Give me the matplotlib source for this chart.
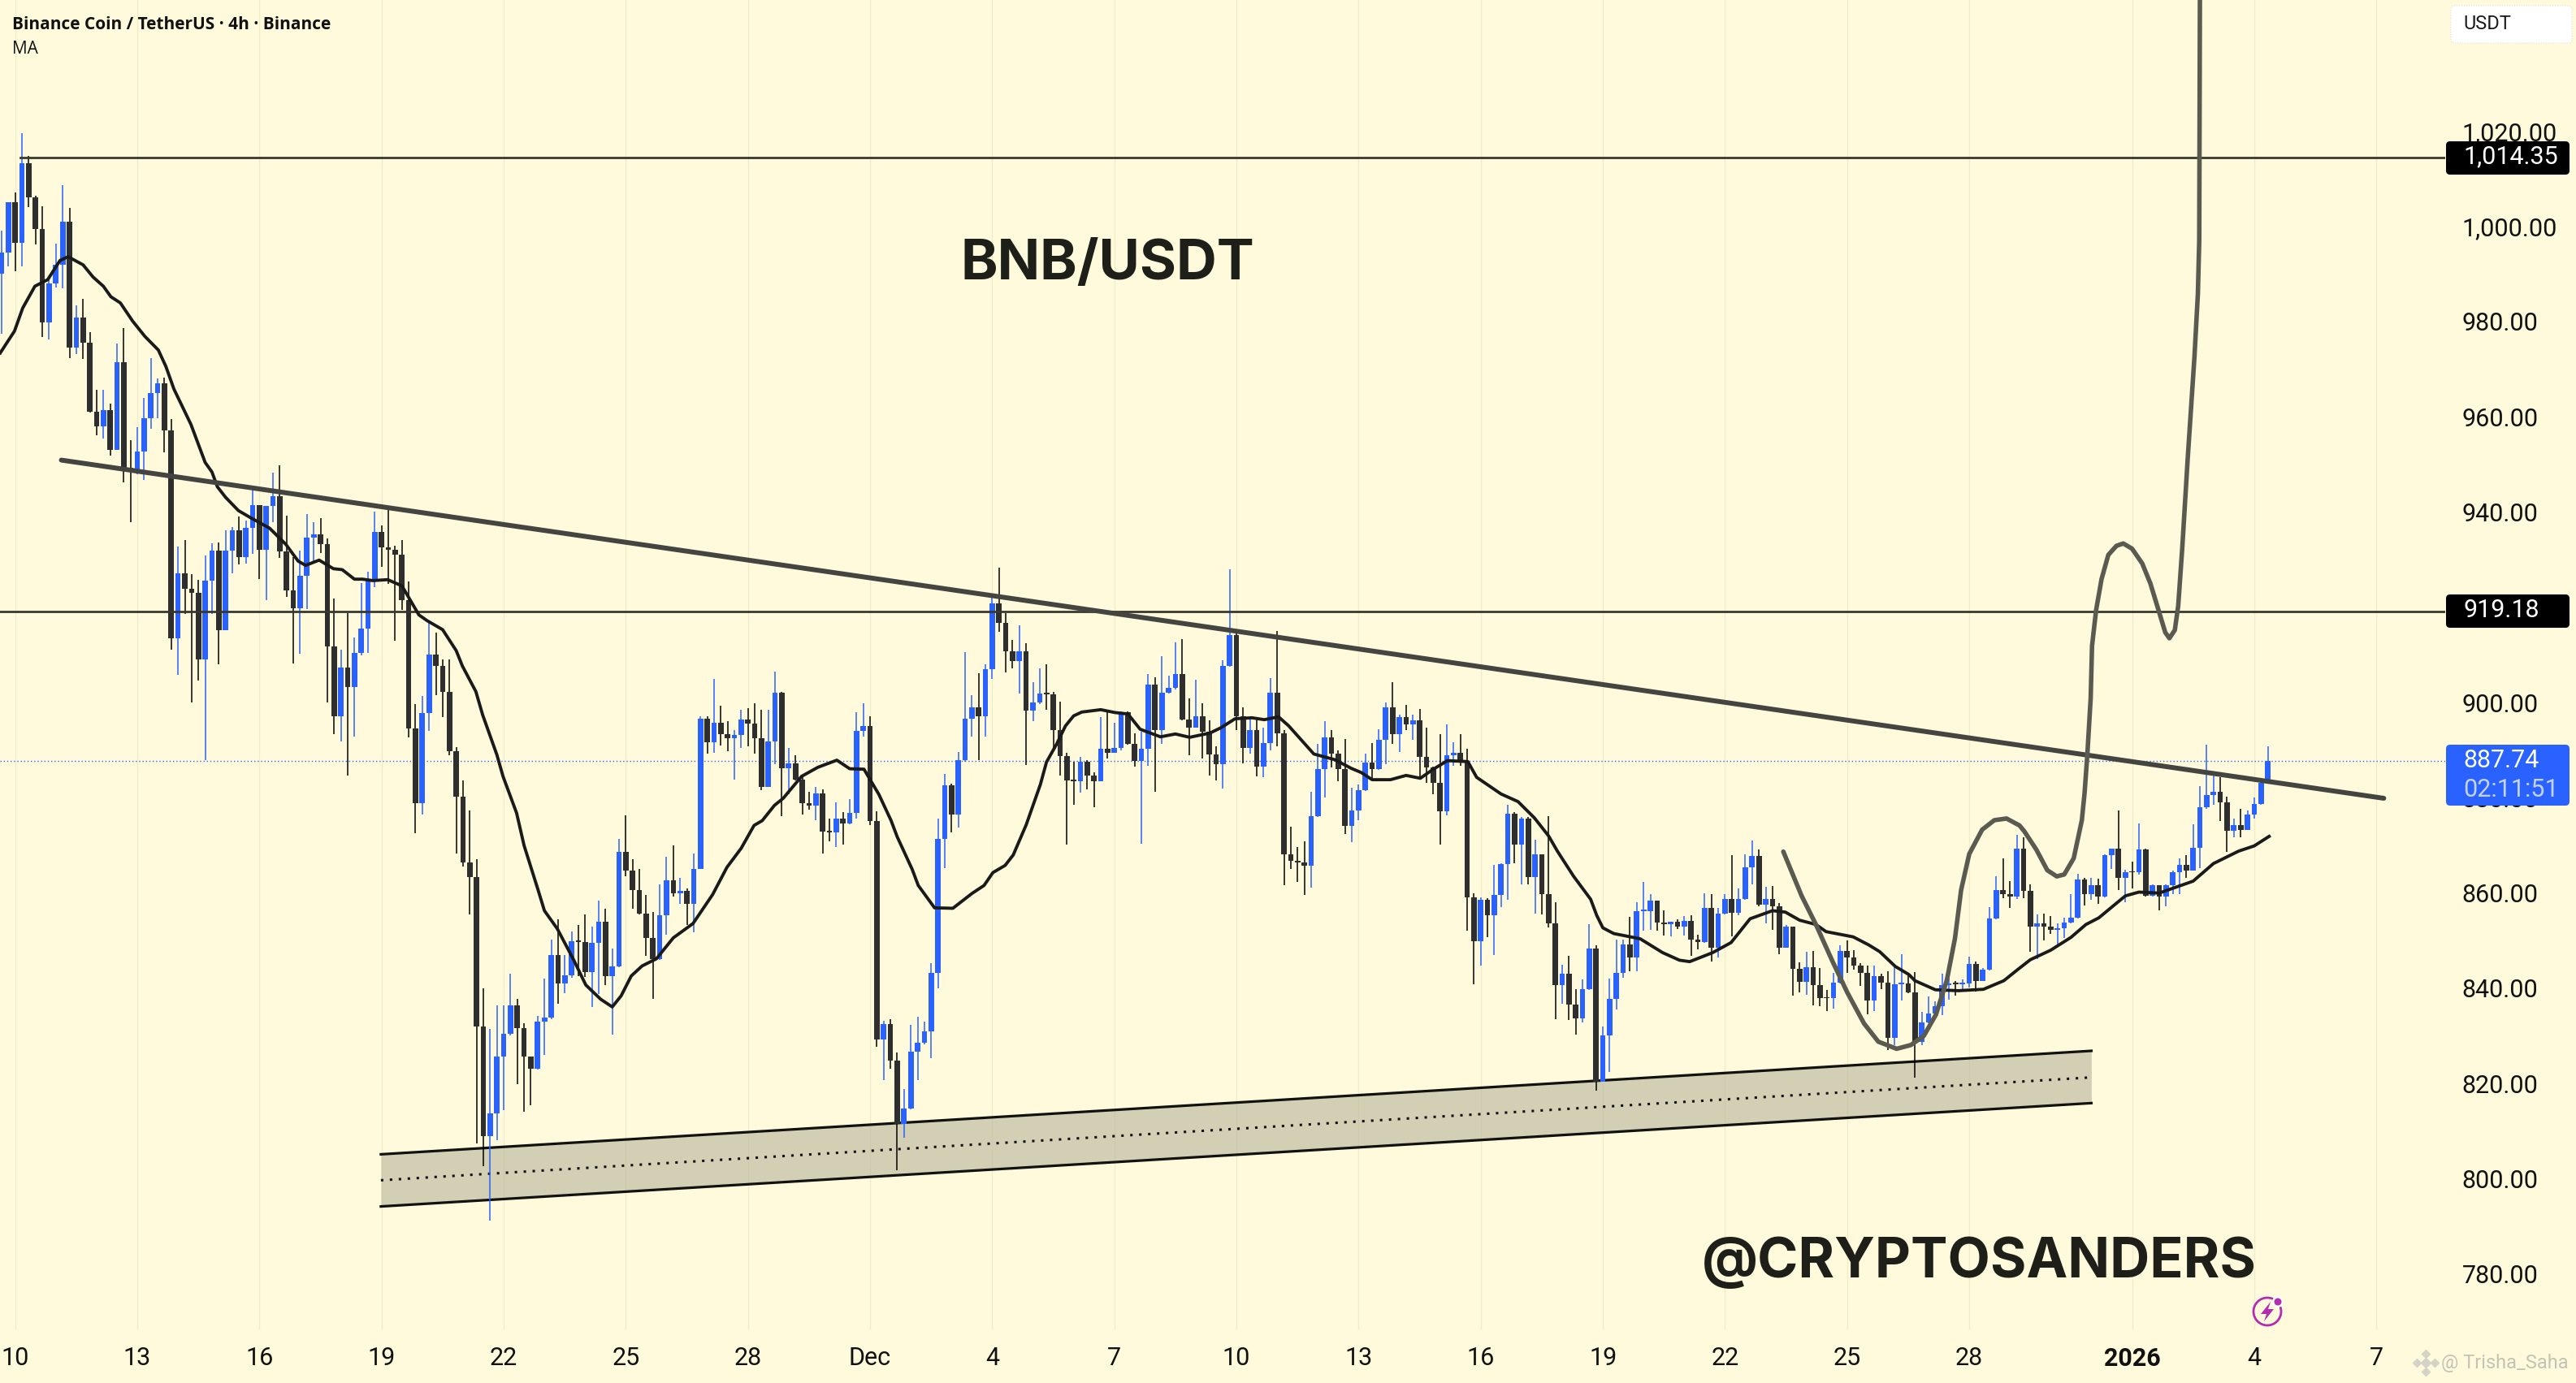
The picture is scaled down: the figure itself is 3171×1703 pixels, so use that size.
#!/usr/bin/env python
import matplotlib
matplotlib.use('Agg')
import matplotlib.pyplot as plt
from matplotlib.lines import Line2D
from matplotlib.patches import Circle, FancyBboxPatch, Polygon
from matplotlib.transforms import IdentityTransform

# 4h candles, candle 2 is Nov 10 00:00. Each open is the previous close.
first_open = 990.1
closes = [
    994.4, 1005.0, 996.5, 1013.2, 1006.0, 999.5, 979.8, 988.0, 991.9, 1000.9,
    974.5, 980.8, 975.6, 961.0, 958.0, 961.4, 953.0, 971.4, 949.3, 948.4,
    952.7, 959.7, 964.9, 967.0, 957.1, 913.4, 927.1, 923.9, 923.0, 909.0,
    925.6, 931.9, 915.2, 931.9, 936.1, 930.5, 936.6, 941.4, 932.0, 941.3,
    943.4, 931.7, 923.5, 919.8, 926.6, 934.6, 935.3, 933.3, 911.8, 897.2,
    907.3, 903.2, 910.4, 915.5, 926.0, 935.8, 932.6, 932.0, 931.0, 921.5,
    894.5, 878.8, 897.8, 910.1, 907.7, 902.3, 889.8, 880.3, 866.4, 863.3,
    832.0, 809.0, 813.8, 825.7, 830.4, 836.4, 831.7, 825.6, 823.1, 833.0,
    833.9, 847.0, 841.0, 842.8, 849.9, 849.8, 843.4, 849.5, 854.0, 842.6,
    844.6, 868.6, 864.8, 860.6, 855.7, 850.6, 846.1, 855.4, 862.7, 860.0,
    860.5, 857.7, 865.1, 896.6, 891.7, 895.7, 893.4, 892.5, 893.2, 896.4,
    895.6, 892.5, 882.2, 891.8, 902.0, 886.2, 887.2, 883.9, 878.9, 878.4,
    881.0, 872.9, 872.8, 875.6, 874.6, 876.9, 894.1, 895.0, 875.1, 829.3,
    832.5, 824.9, 811.6, 814.8, 826.7, 828.5, 831.0, 843.2, 871.4, 882.6,
    876.5, 887.9, 896.6, 899.0, 897.1, 907.0, 920.8, 916.8, 910.7, 908.7,
    910.8, 898.3, 900.0, 901.9, 901.7, 894.2, 888.7, 883.6, 883.5, 887.5,
    884.7, 883.5, 890.3, 889.4, 890.5, 898.0, 891.4, 887.7, 890.3, 903.7,
    894.2, 902.0, 903.1, 905.9, 896.5, 894.8, 897.1, 893.9, 889.1, 887.0,
    907.7, 914.2, 897.1, 890.5, 894.2, 886.6, 891.5, 902.0, 893.5, 868.2,
    866.8, 866.5, 865.7, 876.2, 886.0, 892.6, 889.2, 886.0, 874.1, 877.4,
    881.6, 887.4, 886.0, 892.1, 899.0, 893.4, 897.0, 895.4, 896.3, 888.6,
    886.4, 883.1, 877.2, 888.9, 889.4, 887.6, 859.1, 849.9, 858.6, 855.3,
    859.6, 866.1, 876.7, 870.2, 875.7, 863.4, 868.1, 859.8, 853.6, 840.6,
    843.0, 836.6, 833.7, 839.8, 848.3, 820.4, 830.1, 837.8, 843.2, 849.2,
    846.4, 856.2, 856.2, 858.4, 853.8, 853.4, 854.0, 852.9, 854.1, 850.2,
    849.7, 856.9, 848.5, 855.7, 858.7, 855.8, 858.7, 865.4, 867.8, 857.5,
    858.7, 857.2, 848.5, 852.9, 844.1, 841.3, 844.4, 840.6, 838.0, 837.9,
    841.2, 847.8, 846.4, 844.7, 843.3, 837.4, 842.6, 841.2, 829.6, 840.9,
    841.1, 839.1, 828.8, 832.8, 834.7, 836.2, 840.6, 841.0, 840.9, 841.0,
    845.1, 841.6, 843.9, 854.7, 860.6, 859.7, 859.3, 869.3, 860.5, 853.0,
    853.6, 853.0, 852.3, 852.6, 853.8, 854.8, 862.8, 859.7, 861.7, 859.2,
    868.0, 869.3, 863.2, 864.4, 864.3, 869.2, 859.4, 861.7, 859.3, 861.7,
    864.4, 865.9, 864.7, 869.5, 878.0, 880.6, 881.3, 879.0, 873.0, 874.3,
    873.2, 876.5, 878.7, 883.1, 887.74,
]
highs = [
    999.0, 1005.0, 1007.1, 1019.6, 1014.7, 1006.4, 1004.2, 989.3, 996.3, 1008.6,
    1003.8, 983.4, 984.8, 977.7, 965.6, 965.6, 962.7, 975.4, 978.6, 955.1,
    957.8, 964.0, 972.3, 968.1, 968.2, 959.5, 932.7, 934.1, 926.9, 925.8,
    930.9, 933.4, 933.6, 936.1, 936.8, 939.1, 938.2, 945.2, 941.4, 941.3,
    948.2, 949.8, 939.2, 930.6, 931.9, 939.5, 937.9, 938.7, 934.5, 921.9,
    911.1, 918.7, 913.6, 925.1, 927.4, 940.0, 937.1, 941.2, 932.9, 934.1,
    925.4, 899.7, 901.4, 917.1, 914.6, 909.0, 909.0, 890.6, 883.6, 877.3,
    867.1, 840.0, 831.5, 836.4, 836.4, 843.1, 837.7, 832.7, 825.7, 834.2,
    842.0, 850.2, 854.5, 847.0, 851.9, 853.3, 855.5, 853.0, 858.4, 856.7,
    848.3, 871.4, 876.3, 867.1, 865.1, 859.6, 856.1, 861.9, 867.7, 870.0,
    863.2, 860.9, 868.3, 897.2, 897.1, 904.9, 899.3, 896.1, 894.2, 898.5,
    898.9, 899.8, 898.5, 898.5, 906.5, 902.3, 890.5, 889.0, 884.5, 881.2,
    882.2, 881.8, 875.7, 879.1, 877.0, 879.7, 898.0, 899.8, 897.1, 877.2,
    833.1, 833.5, 826.5, 818.9, 832.3, 834.1, 833.0, 845.2, 875.6, 885.0,
    882.9, 889.6, 910.6, 901.6, 906.1, 908.1, 922.7, 928.3, 918.8, 913.2,
    916.2, 912.4, 904.2, 907.2, 908.1, 902.3, 900.2, 889.4, 887.5, 888.6,
    887.9, 885.3, 897.0, 897.9, 895.7, 898.2, 898.1, 893.6, 893.8, 905.9,
    905.3, 909.8, 905.7, 912.6, 913.3, 900.9, 904.8, 899.8, 896.2, 890.8,
    908.9, 928.0, 914.6, 899.0, 897.2, 896.4, 894.7, 905.1, 915.0, 894.2,
    873.9, 869.6, 870.9, 881.3, 891.4, 896.1, 894.2, 890.0, 892.3, 882.1,
    882.8, 889.2, 891.5, 894.4, 900.0, 904.2, 897.5, 899.5, 897.5, 898.7,
    894.8, 886.6, 893.4, 895.4, 891.7, 893.4, 890.3, 860.0, 859.1, 859.0,
    865.9, 866.2, 878.5, 877.0, 876.0, 875.9, 871.2, 868.2, 876.1, 858.1,
    844.9, 846.8, 839.8, 841.8, 853.5, 849.0, 831.9, 842.0, 850.2, 850.2,
    855.0, 858.0, 862.3, 859.7, 858.4, 856.3, 854.0, 854.5, 855.2, 855.3,
    851.2, 859.9, 859.7, 856.9, 859.7, 868.0, 861.0, 868.2, 871.0, 869.2,
    861.3, 861.4, 857.9, 853.3, 852.9, 845.5, 847.7, 847.8, 844.2, 839.6,
    843.2, 849.0, 850.0, 848.0, 845.2, 844.7, 844.7, 843.0, 843.6, 844.6,
    847.2, 842.9, 843.4, 835.0, 838.3, 837.2, 843.1, 843.5, 841.5, 841.9,
    846.6, 845.7, 844.3, 857.1, 863.5, 867.3, 862.5, 872.2, 871.7, 861.8,
    855.5, 855.7, 855.1, 853.6, 854.9, 859.8, 864.0, 863.2, 863.2, 863.0,
    868.2, 869.3, 877.3, 864.9, 866.6, 874.6, 869.3, 861.9, 861.7, 861.9,
    864.8, 867.3, 867.9, 874.4, 882.5, 891.2, 885.6, 884.4, 880.2, 875.6,
    877.6, 877.3, 880.1, 883.8, 890.8,
]
lows = [
    977.4, 991.5, 990.6, 991.6, 1004.1, 996.1, 976.8, 976.3, 987.1, 986.9,
    972.3, 973.2, 972.1, 960.8, 956.1, 955.4, 951.9, 953.0, 946.2, 937.9,
    948.0, 946.7, 957.5, 959.7, 952.5, 911.1, 905.8, 918.6, 900.1, 904.6,
    887.9, 918.6, 908.1, 915.2, 927.1, 929.0, 929.2, 931.2, 926.0, 921.5,
    937.9, 930.3, 922.1, 908.2, 910.2, 919.6, 929.7, 931.4, 900.1, 893.4,
    891.9, 884.6, 892.8, 909.9, 910.4, 924.3, 928.5, 924.9, 913.0, 919.4,
    892.6, 872.5, 876.5, 894.0, 901.6, 896.9, 889.0, 868.3, 865.6, 855.5,
    807.4, 802.7, 791.3, 808.1, 814.4, 830.1, 819.8, 814.0, 815.4, 823.0,
    826.0, 833.5, 836.8, 839.0, 842.3, 842.6, 842.4, 836.1, 838.8, 840.6,
    830.2, 844.4, 863.5, 856.7, 855.5, 846.9, 837.7, 845.9, 851.2, 859.3,
    857.8, 853.3, 851.7, 865.0, 889.3, 889.4, 890.9, 889.8, 883.9, 890.5,
    890.8, 889.2, 881.6, 882.2, 887.1, 876.2, 880.7, 883.7, 876.5, 877.5,
    875.3, 868.3, 870.8, 869.7, 870.2, 874.4, 875.7, 892.8, 874.3, 827.8,
    820.8, 823.2, 801.8, 808.6, 814.6, 820.7, 828.3, 825.3, 840.0, 865.3,
    872.8, 873.8, 887.6, 892.9, 887.9, 892.9, 905.0, 914.9, 906.4, 907.2,
    901.9, 886.9, 896.1, 899.7, 898.5, 890.0, 884.7, 870.2, 878.6, 881.1,
    881.8, 878.1, 883.4, 888.3, 889.4, 890.0, 891.2, 886.6, 870.3, 886.8,
    881.2, 891.4, 901.9, 902.7, 896.3, 888.9, 894.7, 888.3, 884.7, 883.6,
    881.9, 907.6, 894.2, 887.3, 889.2, 884.5, 884.3, 890.0, 890.8, 861.6,
    865.0, 862.4, 859.6, 861.2, 876.0, 880.1, 886.4, 883.4, 872.4, 870.7,
    875.3, 881.4, 883.9, 885.8, 887.0, 891.3, 889.6, 894.2, 892.2, 884.2,
    883.2, 880.8, 870.2, 876.4, 886.8, 886.8, 852.1, 840.9, 844.7, 850.7,
    847.0, 857.0, 858.6, 866.3, 861.9, 861.9, 855.7, 855.5, 852.8, 833.5,
    836.7, 833.4, 830.2, 832.9, 839.7, 818.6, 820.4, 822.4, 835.6, 842.3,
    843.6, 843.6, 852.1, 852.3, 852.1, 851.0, 850.9, 852.4, 851.0, 846.9,
    848.1, 849.6, 845.7, 846.4, 855.5, 850.9, 855.3, 858.5, 861.9, 857.2,
    853.7, 852.3, 847.2, 848.5, 838.4, 839.2, 838.6, 836.4, 836.2, 835.2,
    835.7, 841.1, 843.3, 843.9, 840.5, 834.5, 835.2, 839.9, 827.0, 828.1,
    837.5, 839.0, 821.3, 828.1, 832.7, 834.3, 834.3, 837.6, 838.5, 839.5,
    840.1, 839.4, 841.5, 843.7, 854.5, 858.9, 856.9, 858.8, 858.9, 847.7,
    846.2, 850.1, 851.4, 848.7, 850.6, 853.7, 854.7, 857.4, 858.5, 857.8,
    859.1, 865.1, 860.7, 858.0, 861.0, 863.9, 859.3, 859.2, 856.3, 857.3,
    859.8, 859.8, 863.2, 864.7, 865.2, 877.6, 878.6, 875.2, 868.6, 871.7,
    871.7, 873.2, 875.7, 878.5, 883.0,
]

# moving average line
ma_idx = [
    -0.2, 1.9, 3.1, 4.9, 6.8, 8.6, 9.8, 12.0, 13.5, 15.0, 16.1, 17.5, 19.3, 21.1, 23.1,
    24.2, 25.4, 27.9, 30.0, 31.0, 31.8, 33.0, 34.9, 36.7, 39.5, 41.9, 43.7, 44.8, 46.8,
    48.9, 50.2, 52.0, 53.2, 54.7, 56.9, 59.0, 61.5, 62.7, 65.0, 67.0, 67.9, 69.9, 70.9,
    73.0, 73.9, 75.9, 77.0, 79.1, 80.0, 81.9, 84.3, 86.1, 88.3, 90.0, 91.3, 92.8, 94.4,
    96.5, 99.0, 101.9, 104.8, 106.9, 109.0, 110.9, 112.1, 113.9, 115.2, 117.9, 120.3,
    123.1, 125.0, 127.1, 129.3, 131.1, 132.0, 134.2, 135.1, 137.5, 140.2, 143.0, 144.8,
    146.1, 147.9, 149.1, 151.0, 153.1, 154.0, 155.5, 156.8, 158.0, 159.2, 162.0, 164.1,
    166.0, 167.8, 170.8, 173.0, 175.1, 178.1, 179.7, 181.8, 184.3, 186.1, 188.2, 189.7,
    193.4, 196.5, 198.9, 200.4, 202.0, 204.7, 207.0, 209.1, 210.9, 213.1, 216.1, 217.4,
    221.0, 223.5, 225.9, 228.0, 229.3, 231.7, 234.2, 235.1, 236.0, 237.6, 241.5, 244.8,
    247.3, 248.8, 252.2, 254.9, 257.7, 261.0, 262.9, 265.0, 267.4, 268.9, 272.9, 275.2,
    276.8, 279.1, 281.1, 282.0, 285.0, 288.4, 292.1, 295.1, 297.2, 299.0, 302.0, 305.0,
    307.2, 309.1, 313.0, 315.0, 318.0, 323.0, 326.0, 329.7, 332.0, 334.2,
]
ma_val = [
    973.4, 978.0, 982.8, 987.4, 988.8, 992.8, 993.6, 991.9, 989.3, 987.4, 985.2, 983.9, 980.1, 976.9, 974.0,
    970.6, 965.8, 958.4, 950.4, 948.4, 945.3, 943.1, 940.3, 938.8, 936.6, 933.2, 929.7, 928.8, 929.9,
    928.1, 927.9, 925.9, 925.9, 925.6, 925.8, 924.5, 918.4, 917.2, 915.3, 910.9, 907.7, 902.3, 897.4,
    889.0, 884.5, 876.8, 870.0, 860.5, 856.3, 852.5, 846.0, 840.7, 837.7, 836.1, 838.4, 842.6, 844.7,
    846.2, 850.6, 853.6, 859.7, 865.4, 869.4, 874.2, 875.2, 878.4, 879.9, 884.5, 886.4,
    887.9, 886.1, 886.0, 880.7, 875.2, 871.8, 865.0, 861.6, 856.9, 856.8, 859.9, 861.6,
    864.3, 865.8, 868.0, 874.3, 882.8, 887.5, 891.3, 895.1, 897.2, 898.0, 898.5, 897.9,
    897.6, 894.4, 892.8, 893.4, 892.7, 893.6, 894.7, 896.6, 896.8, 896.4, 897.0, 895.1,
    889.2, 888.0, 886.2, 885.3, 883.8, 883.8, 884.7, 884.1, 885.9, 887.8, 887.6, 884.3,
    880.8, 879.2, 875.8, 872.0, 868.8, 863.5, 858.7, 855.3, 852.7, 851.5, 850.4, 847.5,
    845.9, 845.6, 847.5, 849.6, 854.6, 856.3, 856.0, 854.3, 853.4, 851.9, 850.8, 849.1,
    847.7, 844.6, 842.9, 841.6, 839.7, 839.5, 839.8, 841.6, 844.0, 846.0, 848.0, 850.7,
    853.4, 854.8, 859.4, 860.2, 860.0, 862.5, 866.2, 868.8, 869.9, 871.9,
]

# hand drawn projection curve
path_idx = [
    262.6, 265.3, 267.4, 269.9, 272.0, 274.5, 276.6, 279.3, 281.4, 283.3, 285.1, 286.7,
    287.9, 288.8, 290.0, 291.9, 293.7, 295.5, 297.4, 298.1, 299.9, 301.5, 302.9, 304.0,
    305.4, 306.6, 307.0, 307.4, 307.9, 308.1, 308.7, 309.5, 310.5, 311.7, 312.7, 314.0,
    315.5, 316.7, 317.9, 318.9, 319.5, 320.3, 320.8, 321.4, 322.2, 323.2, 323.7, 323.9, 324.0,
]
path_val = [
    868.7, 859.4, 853.4, 845.5, 839.2, 832.6, 828.8, 827.3, 828.1, 830.0, 834.5, 841.7,
    850.5, 860.6, 868.2, 873.3, 875.3, 875.65, 874.2, 873.0, 869.1, 864.8, 863.5, 863.9,
    867.3, 875.3, 881.0, 888.9, 900.9, 911.9, 919.4, 925.9, 931.0, 932.9, 933.4, 932.3,
    929.2, 925.0, 919.4, 914.7, 913.5, 915.2, 920.3, 932.5, 951.2, 972.7, 985.8, 997.0, 1048.0,
]

# drawn levels
res_level = 1014.35
mid_level = 919.18
last_price = 887.74
trend_idx = [8.8, 351.1]
trend_val = [950.9, 879.9]
channel_idx = [55.9, 308.0]
channel_top = [805.15, 826.87]
channel_mid = [799.7, 821.3]
channel_bot = [794.2, 815.9]

price_ticks = [780, 800, 820, 840, 860, 880, 900, 920, 940, 960, 980, 1000, 1020]
tick_days = [0, 3, 6, 9, 12, 15, 18, 21, 24, 27, 30, 33, 36, 39, 42, 45, 48, 52, 55, 58]
tick_labels = ['10', '13', '16', '19', '22', '25', '28', 'Dec', '4', '7', '10', '13',
               '16', '19', '22', '25', '28', '2026', '4', '7']

BG = '#fffadb'
BLUE = '#2962ff'
BODY = '#2e2e2e'
W, H = 3171, 1703

plt.rcParams['font.family'] = ['Roboto', 'DejaVu Sans']

fig = plt.figure(figsize=(W / 100, H / 100), dpi=100, facecolor=BG)
ax = fig.add_axes([0, 1 - 1637 / H, 3010 / W, 1637 / H], facecolor=BG)
ax.set_xlim((0 - 2) / 8.352, (3010 - 2) / 8.352)
ax.set_ylim(mid_level - (1637 - 752.6) / 5.865, mid_level + 752.6 / 5.865)
for s in ax.spines.values():
    s.set_visible(False)

ax.grid(axis='x', color='#efecca', linewidth=1.0, zorder=0)
ax.set_axisbelow(True)

# support channel
ax.fill_between(channel_idx, channel_bot, channel_top, color='#b5b39a', alpha=0.6, linewidth=0, zorder=1)
ax.plot(channel_idx, channel_top, color='#111111', linewidth=2.3, zorder=2)
ax.plot(channel_idx, channel_bot, color='#111111', linewidth=2.3, zorder=2)
ax.plot(channel_idx, channel_mid, color='#111111', linewidth=2.2, linestyle=(0, (1, 2.6)), zorder=2)

# last price line
ax.axhline(last_price, color=BLUE, linewidth=1.0, linestyle=(0, (1, 2)), zorder=2)

# candles
opens = [first_open] + closes[:-1]
xs = list(range(len(closes)))
up = [c >= o for o, c in zip(opens, closes)]
wick_colors = [BLUE if u else '#000000' for u in up]
body_colors = [BLUE if u else BODY for u in up]
ax.vlines(xs, lows, highs, colors=wick_colors, linewidth=1.1, zorder=3)
heights = [max(abs(c - o), 0.3) for o, c in zip(opens, closes)]
bottoms = [min(o, c) for o, c in zip(opens, closes)]
ax.bar(xs, heights, bottom=bottoms, width=0.8, color=body_colors, linewidth=0, zorder=4)

ax.plot([xs[0] + 2.8, ax.get_xlim()[1]], [res_level, res_level], color='#3a382c', linewidth=2.0, zorder=5)
ax.axhline(mid_level, color='#3a382c', linewidth=2.0, zorder=5)
ax.plot(ma_idx, ma_val, color='#1a1a1a', linewidth=2.8, zorder=6)
ax.plot(trend_idx, trend_val, color='#444440', linewidth=4.3, solid_capstyle='round', zorder=7)
ax.plot(path_idx, path_val, color='#5a5a50', linewidth=4.0, solid_capstyle='round', zorder=7)

ax.set_xticks([2 + 6 * d for d in tick_days])
ax.set_xticklabels(tick_labels)
ax.tick_params(axis='x', length=0, pad=15, labelsize=22, labelcolor='#111111')
ax.get_xticklabels()[tick_labels.index('2026')].set_fontweight('bold')
ax.yaxis.tick_right()
ax.set_yticks(price_ticks)
ax.set_yticklabels([f'{p:,.2f}' for p in price_ticks], va='center_baseline')
ax.tick_params(axis='y', length=0, pad=15, labelsize=22, labelcolor='#111111')


def px_text(x, y, s, **kw):
    fig.text(x / W, 1 - y / H, s, va='center', zorder=5, **kw)


def px_box(x0, y0, x1, y1, color, **kw):
    fig.add_artist(FancyBboxPatch((x0 + 3, H - y1 + 3), x1 - x0 - 6, y1 - y0 - 6,
                                  boxstyle='round,pad=3,rounding_size=5', facecolor=color,
                                  transform=IdentityTransform(), zorder=3, **kw))


# price tags on the scale
px_box(3011, 174, 3163, 215, '#000000', linewidth=0)
px_text(3032, 193, '1,014.35', color='white', fontsize=22)
px_box(3011, 732, 3163, 773, '#000000', linewidth=0)
px_text(3032, 752, '919.18', color='white', fontsize=22)
px_box(3011, 917, 3163, 992, BLUE, linewidth=0)
px_text(3032, 937, '887.74', color='white', fontsize=22)
px_text(3032, 972, '02:11:51', color='#c3d2ff', fontsize=22)
px_box(3017, 7, 3166, 53, 'white', linewidth=0.8, edgecolor='#dcdcec', linestyle=':')
px_text(3032, 29, 'USDT', color='#1c1c1c', fontsize=17)

# header and annotations
px_text(15, 30, 'Binance Coin / TetherUS · 4h · Binance', family='Open Sans', fontweight='bold',
        fontsize=15, color='#111111')
px_text(15, 61, 'MA', family='Open Sans', fontsize=15, color='#111111')
px_text(1363, 326, 'BNB/USDT', family='Inter', fontweight='bold', fontsize=49.7, color='#1f1f1a', ha='center')
px_text(2436, 1555, '@CRYPTOSANDERS', family='Inter', fontweight='bold', fontsize=49, color='#1f1f1a', ha='center')

# watermark
px_text(3005, 1678, '@ Trisha_Saha', color='#c4c3b6', fontsize=17)
for dx, dy, ms in [(0, -11, 5), (-11, 0, 5), (11, 0, 5), (0, 11, 5), (0, 0, 6)]:
    fig.add_artist(Line2D([2986 + dx], [H - 1678 - dy], marker='D', markersize=ms, color='#d4d3c6',
                          linewidth=0, transform=IdentityTransform(), zorder=4))

# lightning badge
ident = IdentityTransform()
fig.add_artist(Circle((2791, H - 1615), 17, facecolor=BG, edgecolor='#b32db0', linewidth=2.0,
                      transform=ident, zorder=4))
fig.add_artist(Polygon([(2795, H - 1603), (2783, H - 1618), (2790, H - 1618), (2787, H - 1627),
                        (2799, H - 1612), (2792, H - 1612)], closed=True, facecolor='#b32db0',
                       linewidth=0, transform=ident, zorder=5))
fig.add_artist(Circle((2804, H - 1603), 7, facecolor='white', linewidth=0, transform=ident, zorder=5))
fig.add_artist(Circle((2804, H - 1603), 4.5, facecolor='#b32db0', linewidth=0, transform=ident, zorder=6))

fig.savefig('out.png', dpi=100, facecolor=BG)
